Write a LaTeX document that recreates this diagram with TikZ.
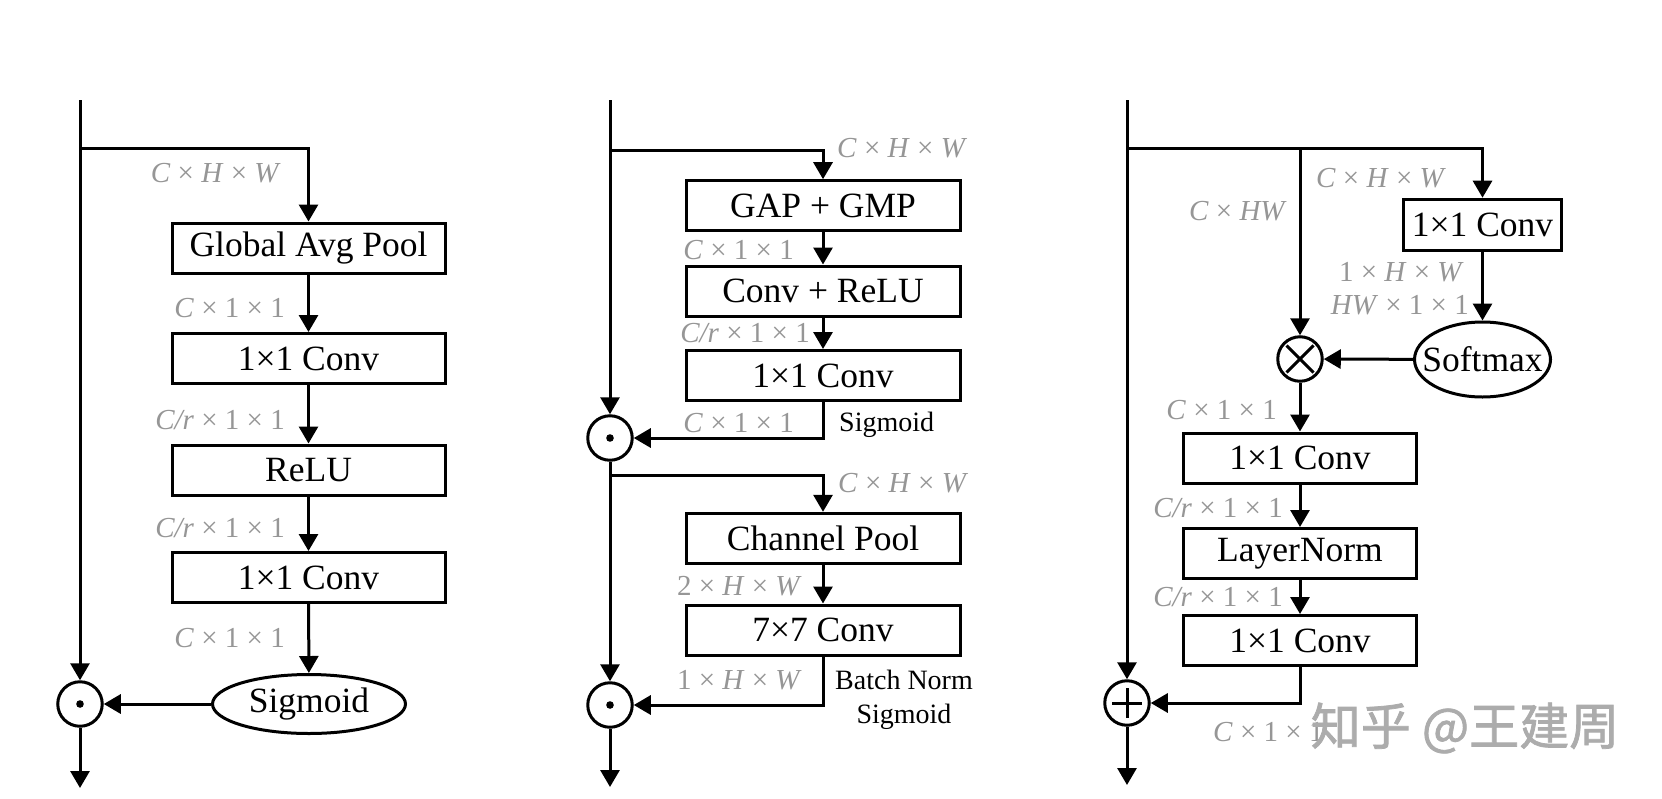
\documentclass[tikz,border=0pt]{standalone}
\usepackage{fontspec}
\setmainfont{Liberation Serif}
\newfontfamily\cjkfont{Noto Sans CJK SC}[FakeBold=1.5]
\usetikzlibrary{arrows.meta,shapes.geometric}
\definecolor{lblgray}{RGB}{150,150,150}
\definecolor{wmgray}{RGB}{172,172,172}
\begin{document}
\begin{tikzpicture}[x=1pt,y=-1pt,
  ln/.style={line width=3pt},
  arr/.style={ln,-{Triangle[length=17pt,width=19pt]}},
  box/.style={draw,line width=3pt,rectangle,inner sep=0pt,minimum height=50pt,font=\fontsize{35.5}{40}\selectfont},
  oval/.style={draw,line width=3pt,ellipse,inner sep=0pt,font=\fontsize{35.5}{40}\selectfont},
  opnode/.style={draw,line width=3pt,circle,inner sep=0pt,minimum size=44.5pt},
  opdot/.style={opnode,path picture={\fill (path picture bounding box.center) circle (3.8pt);}},
  optimes/.style={opnode,path picture={
     \draw[line width=3pt] ([shift={(-13.5pt,-13.5pt)}]path picture bounding box.center) -- ([shift={(13.5pt,13.5pt)}]path picture bounding box.center);
     \draw[line width=3pt] ([shift={(-13.5pt,13.5pt)}]path picture bounding box.center) -- ([shift={(13.5pt,-13.5pt)}]path picture bounding box.center);}},
  opplus/.style={opnode,path picture={
     \draw[line width=3pt] ([xshift=-15pt]path picture bounding box.center) -- ([xshift=15pt]path picture bounding box.center);
     \draw[line width=3pt] ([yshift=-15pt]path picture bounding box.center) -- ([yshift=15pt]path picture bounding box.center);}},
  lbl/.style={text=lblgray,inner sep=0pt,font=\fontsize{29}{32}\selectfont},
  side/.style={inner sep=0pt,font=\fontsize{28}{34}\selectfont,align=center},
]
\fill[white] (0,0) rectangle (1662,798);
\useasboundingbox (0,0) rectangle (1662,798);

% ---------------- Panel 1 ----------------
\coordinate (a1) at (80,100);
\coordinate (s1) at (80,148);
\coordinate (o1) at (80,788);
\node[box,minimum width=273pt] (b1a) at (308.5,248) {Global Avg Pool};
\node[box,minimum width=273pt] (b1b) at (308.5,358.5) {1×1 Conv};
\node[box,minimum width=273pt] (b1c) at (308.5,470) {ReLU};
\node[box,minimum width=273pt] (b1d) at (308.5,577.5) {1×1 Conv};
\node[oval,minimum width=193pt,minimum height=59pt] (sg1) at (309,704) {\makebox[0pt]{Sigmoid}};
\node[opdot] (c1) at (80,704) {};

\draw[arr] (a1) -- (c1);
\draw[arr] (s1) -| (b1a);
\draw[arr] (b1a) -- (b1b);
\draw[arr] (b1b) -- (b1c);
\draw[arr] (b1c) -- (b1d);
\draw[arr] (b1d) -- (sg1);
\draw[arr] (sg1) -- (c1);
\draw[arr] (c1) -- (o1);

\node[lbl,anchor=east] (l1a) at (281,173) {\textit{C} × \textit{H} × \textit{W}};
\node[lbl,anchor=east] (l1b) at (285,308) {\textit{C} × 1 × 1};
\node[lbl,anchor=east] (l1c) at (285,420) {\textit{C/r} × 1 × 1};
\node[lbl,anchor=east] (l1d) at (285,528) {\textit{C/r} × 1 × 1};
\node[lbl,anchor=east] (l1e) at (285,638) {\textit{C} × 1 × 1};

% ---------------- Panel 2 ----------------
\coordinate (a2) at (610,100);
\coordinate (s2) at (610,150.5);
\coordinate (t2) at (610,475);
\coordinate (o2) at (610,787);
\node[box,minimum width=274pt] (b2a) at (823,205.7) {GAP + GMP};
\node[box,minimum width=274pt] (b2b) at (823,291) {Conv + ReLU};
\node[box,minimum width=274pt] (b2c) at (823,375.5) {1×1 Conv};
\node[box,minimum width=274pt] (b2d) at (823,538.3) {Channel Pool};
\node[box,minimum width=274pt] (b2e) at (823,630) {7×7 Conv};
\node[opdot] (c2a) at (610,438) {};
\node[opdot] (c2b) at (610,705) {};

\draw[arr] (a2) -- (c2a);
\draw[arr] (s2) -| (b2a);
\draw[arr] (b2a) -- (b2b);
\draw[arr] (b2b) -- (b2c);
\draw[arr] (b2c.south) |- (c2a);
\draw[arr] (c2a) -- (c2b);
\draw[arr] (t2) -| (b2d);
\draw[arr] (b2d) -- (b2e);
\draw[arr] (b2e.south) |- (c2b);
\draw[arr] (c2b) -- (o2);

\node[lbl,anchor=west] (l2a) at (837,148) {\textit{C} × \textit{H} × \textit{W}};
\node[lbl,anchor=east] (l2b) at (794,250) {\textit{C} × 1 × 1};
\node[lbl,anchor=east] (l2c) at (810,333) {\textit{C/r} × 1 × 1};
\node[lbl,anchor=east] (l2d) at (794,423) {\textit{C} × 1 × 1};
\node[side,anchor=west] (sd2a) at (839,425) {Sigmoid};
\node[lbl,anchor=west] (l2e) at (838,483) {\textit{C} × \textit{H} × \textit{W}};
\node[lbl,anchor=east] (l2f) at (802,586) {2 × \textit{H} × \textit{W}};
\node[lbl,anchor=east] (l2g) at (802,680) {1 × \textit{H} × \textit{W}};
\node[side] (sd2b) at (904,700) {Batch Norm\\Sigmoid};

% ---------------- Panel 3 ----------------
\coordinate (a3) at (1127,100);
\coordinate (s3) at (1127,148.3);
\coordinate (k3) at (1300,148.3);
\coordinate (o3) at (1127,785);
\node[box,minimum width=158.5pt,minimum height=51pt] (b3a) at (1482.5,224.7) {1×1 Conv};
\node[oval,minimum width=136pt,minimum height=75pt] (sm) at (1482.5,359.5) {\makebox[0pt]{Softmax}};
\node[optimes] (ot) at (1300,359) {};
\node[box,minimum width=233pt] (b3b) at (1300,458) {1×1 Conv};
\node[box,minimum width=233pt] (b3c) at (1300,553.5) {LayerNorm};
\node[box,minimum width=233pt] (b3d) at (1300,640.5) {1×1 Conv};
\node[opplus] (op) at (1127,703) {};

\draw[arr] (a3) -- (op);
\draw[arr] (s3) -| (b3a);
\draw[arr] (k3) -- (ot);
\draw[arr] (b3a) -- (sm);
\draw[arr] (sm) -- (ot);
\draw[arr] (ot) -- (b3b);
\draw[arr] (b3b) -- (b3c);
\draw[arr] (b3c) -- (b3d);
\draw[arr] (b3d.south) |- (op);
\draw[arr] (op) -- (o3);

\node[lbl] (l3a) at (1381,178) {\textit{C} × \textit{H} × \textit{W}};
\node[lbl,anchor=east] (l3b) at (1287,211) {\textit{C} × \textit{HW}};
\node[lbl,anchor=east] (l3c) at (1464,272) {1 × \textit{H} × \textit{W}};
\node[lbl,anchor=east] (l3d) at (1469,305) {\textit{HW} × 1 × 1};
\node[lbl,anchor=east] (l3e) at (1277,410) {\textit{C} × 1 × 1};
\node[lbl,anchor=east] (l3f) at (1283,508) {\textit{C/r} × 1 × 1};
\node[lbl,anchor=east] (l3g) at (1283,597) {\textit{C/r} × 1 × 1};
\node[lbl,anchor=west] (l3h) at (1213,732) {\textit{C} × 1 × 1};

% watermark
\node[text=wmgray,inner sep=0pt,font=\cjkfont\fontsize{50}{56}\selectfont] (wm) at (1465,728) {知乎 @王建周};
\end{tikzpicture}
\end{document}
